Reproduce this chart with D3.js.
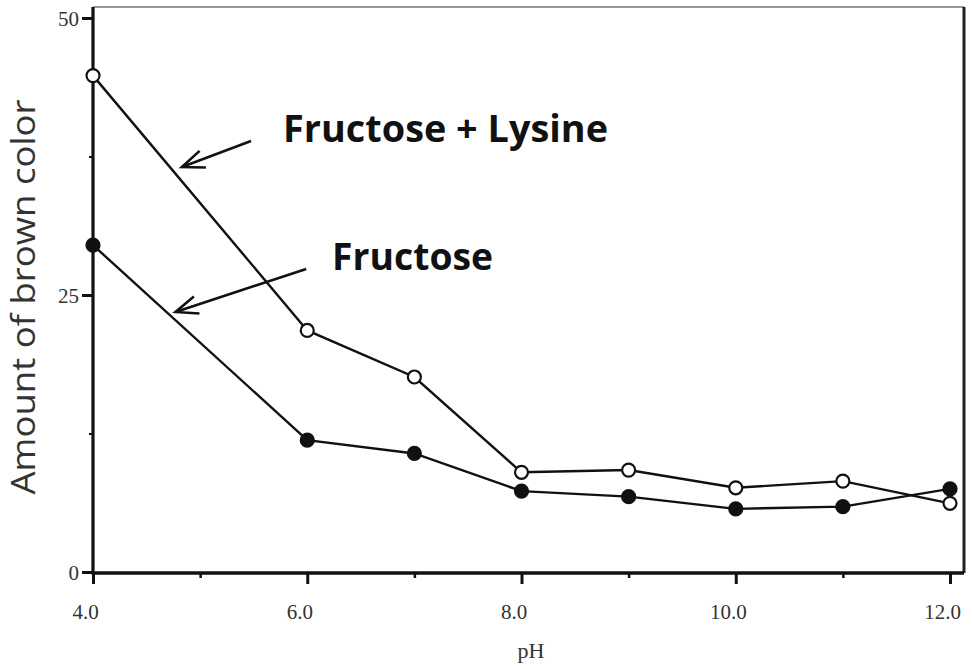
<!DOCTYPE html>
<html>
<head>
<meta charset="utf-8">
<script src="https://cdn.jsdelivr.net/npm/d3@7"></script>
<style>
  body { margin: 0; background: #fff; }
  svg { display: block; }
</style>
</head>
<body>
<div id="chart"></div>
<script>
// data
const pH = [4, 6, 7, 8, 9, 10, 11, 12];
const fructoseLysine = [44.8, 21.8, 17.6, 9.0, 9.2, 7.6, 8.2, 6.2];
const fructose = [29.5, 11.9, 10.7, 7.3, 6.8, 5.7, 5.9, 7.5];
const xMajorTicks = [4, 6, 8, 10, 12];
const xMinorTicks = [5, 7, 9, 11];
const yMajorTicks = [0, 25, 50];
const yMinorTicks = [12.5, 37.5];

// annotation labels and arrows (data coordinates)
const labels = [
    {text: "Fructose + Lysine", x: 5.774, y: 38.8, len: 325},
    {text: "Fructose", x: 6.232, y: 27.26, len: 161}
];
const arrows = [
    {from: [5.475, 38.9], to: [4.83, 36.55]},
    {from: [5.99, 27.35], to: [4.77, 23.47]}
];

const W = 972, H = 669;
const svg = d3.select("#chart").append("svg")
    .attr("width", W)
    .attr("height", H);

const x = d3.scaleLinear().domain([4, 12]).range([93, 950]);
const y = d3.scaleLinear().domain([0, 50]).range([572, 18]);

const frame = {left: 93, right: 964, top: 7, bottom: 573};
const serif = "'Liberation Serif', 'DejaVu Serif', serif";

// frame: thin gray top, heavy right
svg.append("line")
    .attr("x1", frame.left).attr("x2", frame.right)
    .attr("y1", frame.top).attr("y2", frame.top)
    .attr("stroke", "#777").attr("stroke-width", 1.6);
svg.append("line")
    .attr("x1", frame.right).attr("x2", frame.right)
    .attr("y1", frame.top).attr("y2", frame.bottom)
    .attr("stroke", "#222").attr("stroke-width", 3);

// x axis
const xAxisG = svg.append("g")
    .attr("transform", `translate(0,${frame.bottom})`);
xAxisG.call(d3.axisBottom(x).tickValues(xMajorTicks).tickSize(11).tickSizeOuter(0)
    .tickFormat(d3.format(".1f")));
xAxisG.call(g => g.select(".domain").remove());
xAxisG.selectAll(".tick line").attr("stroke", "#111").attr("stroke-width", 3);
xAxisG.selectAll(".tick text")
    .attr("dx", -8).attr("y", 31).attr("dy", "0.71em")
    .style("font-family", serif)
    .style("font-size", "21px").attr("fill", "#333");

const xMinorG = svg.append("g")
    .attr("transform", `translate(0,${frame.bottom})`);
xMinorG.call(d3.axisBottom(x).tickValues(xMinorTicks).tickSize(5).tickSizeOuter(0).tickFormat(""));
xMinorG.call(g => g.select(".domain").remove());
xMinorG.selectAll(".tick line").attr("stroke", "#111").attr("stroke-width", 2.5);

// y axis
const yAxisG = svg.append("g")
    .attr("transform", `translate(${frame.left},0)`);
yAxisG.call(d3.axisLeft(y).tickValues(yMajorTicks).tickSize(11).tickSizeOuter(0));
yAxisG.call(g => g.select(".domain").remove());
yAxisG.selectAll(".tick line").attr("stroke", "#111").attr("stroke-width", 3);
yAxisG.selectAll(".tick text")
    .attr("x", -14).attr("dy", "0.36em")
    .style("font-family", serif)
    .style("font-size", "21px").attr("fill", "#333");

const yMinorG = svg.append("g")
    .attr("transform", `translate(${frame.left},0)`);
yMinorG.call(d3.axisLeft(y).tickValues(yMinorTicks).tickSize(4).tickSizeOuter(0).tickFormat(""));
yMinorG.call(g => g.select(".domain").remove());
yMinorG.selectAll(".tick line").attr("stroke", "#111").attr("stroke-width", 2);

// axis lines
svg.append("line")
    .attr("x1", frame.left).attr("x2", frame.left)
    .attr("y1", frame.top).attr("y2", frame.bottom + 1.5)
    .attr("stroke", "#111").attr("stroke-width", 3.2);
svg.append("line")
    .attr("x1", frame.left - 1).attr("x2", frame.right)
    .attr("y1", frame.bottom).attr("y2", frame.bottom)
    .attr("stroke", "#111").attr("stroke-width", 3.5);

// axis titles
svg.append("text")
    .attr("x", 531).attr("y", 658)
    .attr("text-anchor", "middle")
    .style("font-family", serif)
    .style("font-size", "22px").attr("fill", "#333")
    .text("pH");

svg.append("text")
    .attr("transform", "translate(35,297) rotate(-90)")
    .attr("text-anchor", "middle")
    .attr("textLength", 395).attr("lengthAdjust", "spacingAndGlyphs")
    .style("font-family", "'Open Sans', 'Liberation Sans', sans-serif")
    .style("font-size", "32px").attr("fill", "#333")
    .text("Amount of brown color");

// series
const line = d3.line()
    .x(d => x(d[0]))
    .y(d => y(d[1]));

const series = [
    {name: "Fructose + Lysine", values: fructoseLysine, fill: "#fff"},
    {name: "Fructose", values: fructose, fill: "#111"}
];

series.forEach(s => {
    const pts = pH.map((p, i) => [p, s.values[i]]);
    svg.append("path")
        .datum(pts)
        .attr("d", line)
        .attr("fill", "none")
        .attr("stroke", "#111")
        .attr("stroke-width", 2.4);
});

series.forEach(s => {
    const pts = pH.map((p, i) => [p, s.values[i]]);
    svg.append("g").selectAll("circle")
        .data(pts)
        .enter().append("circle")
        .attr("cx", d => x(d[0]))
        .attr("cy", d => y(d[1]))
        .attr("r", 6.5)
        .attr("fill", s.fill)
        .attr("stroke", "#111")
        .attr("stroke-width", 2.2);
});

// annotations
labels.forEach(l => {
    svg.append("text")
        .attr("x", x(l.x)).attr("y", y(l.y))
        .attr("textLength", l.len).attr("lengthAdjust", "spacingAndGlyphs")
        .style("font-family", "'Open Sans', 'Liberation Sans', sans-serif")
        .style("font-weight", "bold")
        .style("font-size", "38px").attr("fill", "#111")
        .text(l.text);
});

arrows.forEach(a => {
    const x1 = x(a.from[0]), y1 = y(a.from[1]);
    const x2 = x(a.to[0]), y2 = y(a.to[1]);
    const ang = Math.atan2(y1 - y2, x1 - x2);
    const hl = 24, spread = 0.38;
    svg.append("line")
        .attr("x1", x1).attr("y1", y1).attr("x2", x2).attr("y2", y2)
        .attr("stroke", "#111").attr("stroke-width", 2.6);
    svg.append("path")
        .attr("d", `M${x2 + hl * Math.cos(ang + spread)},${y2 + hl * Math.sin(ang + spread)}` +
            `L${x2},${y2}L${x2 + hl * Math.cos(ang - spread)},${y2 + hl * Math.sin(ang - spread)}`)
        .attr("fill", "none")
        .attr("stroke", "#111").attr("stroke-width", 2.6)
        .attr("stroke-linejoin", "miter");
});
</script>
</body>
</html>
